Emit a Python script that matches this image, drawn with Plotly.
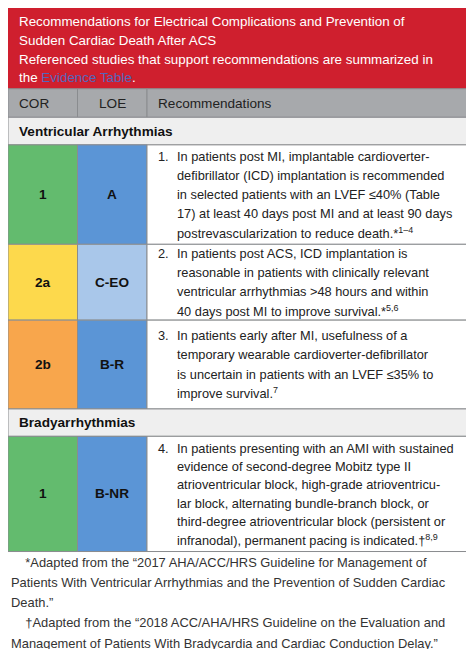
import plotly.graph_objects as go

W, H = 474, 651

title_lines = [
    "Recommendations for Electrical Complications and Prevention of",
    "Sudden Cardiac Death After ACS",
    "Referenced studies that support recommendations are summarized in",
    "the <span style='color:#5566bb'>Evidence Table</span>.",
]
headers = ["COR", "LOE", "Recommendations"]
sections = ["Ventricular Arrhythmias", "Bradyarrhythmias"]
cor = ["1", "2a", "2b", "1"]
loe = ["A", "C-EO", "B-R", "B-NR"]
cor_colors = ["#63bb6e", "#fdd94c", "#f8a64c", "#63bb6e"]
loe_colors = ["#5b95d6", "#a9c7ea", "#5b95d6", "#5b95d6"]
recs = [
    ["In patients post MI, implantable cardioverter-",
     "defibrillator (ICD) implantation is recommended",
     "in selected patients with an LVEF ≤40% (Table",
     "17) at least 40 days post MI and at least 90 days",
     "postrevascularization to reduce death.*<sup>1–4</sup>"],
    ["In patients post ACS, ICD implantation is",
     "reasonable in patients with clinically relevant",
     "ventricular arrhythmias >48 hours and within",
     "40 days post MI to improve survival.*<sup>5,6</sup>"],
    ["In patients early after MI, usefulness of a",
     "temporary wearable cardioverter-defibrillator",
     "is uncertain in patients with an LVEF ≤35% to",
     "improve survival.<sup>7</sup>"],
    ["In patients presenting with an AMI with sustained",
     "evidence of second-degree Mobitz type II",
     "atrioventricular block, high-grade atrioventricu-",
     "lar block, alternating bundle-branch block, or",
     "third-degree atrioventricular block (persistent or",
     "infranodal), permanent pacing is indicated.†<sup>8,9</sup>"],
]
footnotes = [
    "    *Adapted from the “2017 AHA/ACC/HRS Guideline for Management of",
    "Patients With Ventricular Arrhythmias and the Prevention of Sudden Cardiac",
    "Death.”",
    "    †Adapted from the “2018 ACC/AHA/HRS Guideline on the Evaluation and",
    "Management of Patients With Bradycardia and Cardiac Conduction Delay.”",
]

# layout (pixels)
col_x = [0, 71, 142, W]
row_tops = [139, 240, 317, 435]
row_bots = [240, 317, 407, 552]
section_y = [(111, 139), (407, 435)]
LH = 19.5
FONT = "Liberation Sans, Arial, sans-serif"

fig = go.Figure()
shapes = []
ann = []

def rect(x0, y0, x1, y1, fill, line="#8a8c8f", lw=1):
    shapes.append(dict(type="rect", x0=x0, y0=y0, x1=x1, y1=y1, fillcolor=fill,
                       line=dict(color=line, width=lw), layer="below"))

def text(x, y, s, size=13.0, color="#222", bold=False, anchor="left"):
    if bold:
        s = "<b>" + s + "</b>"
    ann.append(dict(x=x, y=y, text=s, showarrow=False, xanchor=anchor, yanchor="middle",
                    font=dict(size=size, color=color, family=FONT)))

rect(0, 0, W, 82, "#cf1f2e", line="#cf1f2e")
for i, s in enumerate(title_lines):
    text(9, 14 + i * 19, s, size=13.4, color="white")

for i, h in enumerate(headers):
    rect(col_x[i], 82, col_x[i + 1], 111, "#a7a9ac", line="#8a8c8f")
    x = 9 if i != 1 else (col_x[1] + col_x[2]) / 2
    text(x if i != 2 else 151, 97, h, size=13.6, anchor="left" if i != 1 else "center")

for (y0, y1), s in zip(section_y, sections):
    rect(0, y0, W, y1, "#efefef", line="#8a8c8f")
    text(9, (y0 + y1) / 2, s, size=13.6, bold=True, color="#111")

for k in range(4):
    y0, y1 = row_tops[k], row_bots[k]
    ym = (y0 + y1) / 2
    rect(col_x[0], y0, col_x[1], y1, cor_colors[k])
    rect(col_x[1], y0, col_x[2], y1, loe_colors[k])
    rect(col_x[2], y0, col_x[3], y1, "white")
    text(35.5, ym, cor[k], bold=True, anchor="center", color="#111", size=13.6)
    text(106.5, ym, loe[k], bold=True, anchor="center", color="#111", size=13.6)
    n = len(recs[k])
    lh = LH * (0.95 if k == 3 else 1)
    start = ym - (n - 1) * lh / 2
    text(151, start, f"{k + 1}.", size=12.8)
    for j, s in enumerate(recs[k]):
        text(171, start + j * lh, s, size=12.8)

for i, s in enumerate(footnotes):
    text(1, 563 + i * 20.5, s, size=12.9, color="#333")

fig.update_layout(
    width=W - 10, height=H - 10, margin=dict(l=0, r=0, t=0, b=0),
    paper_bgcolor="white", plot_bgcolor="white",
    shapes=shapes, annotations=ann, showlegend=False,
    xaxis=dict(range=[0, W], visible=False, fixedrange=True),
    yaxis=dict(range=[H, 0], visible=False, fixedrange=True),
)
fig.write_html("out.html", config={"displayModeBar": False})
